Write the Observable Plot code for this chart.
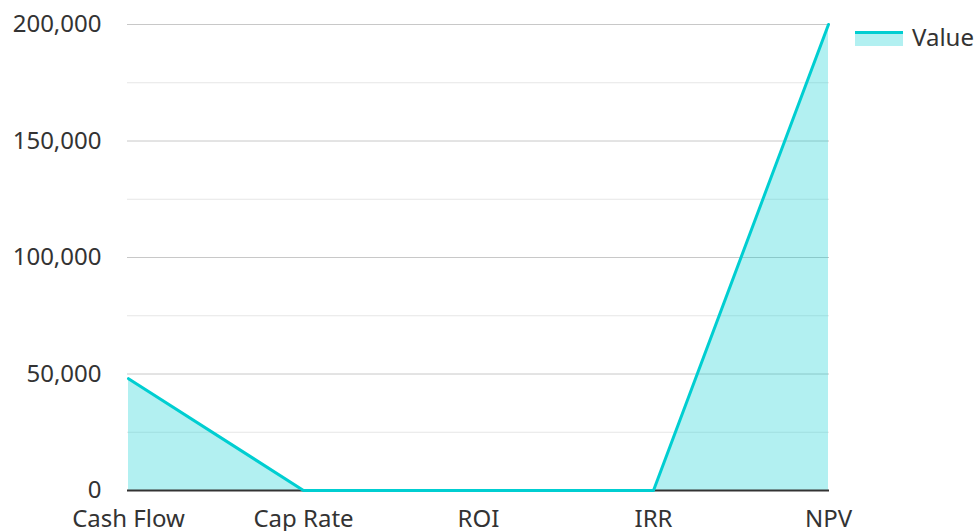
<!DOCTYPE html>
<html><head><meta charset="utf-8">
<script src="https://cdn.jsdelivr.net/npm/d3@7"></script>
<script src="https://cdn.jsdelivr.net/npm/@observablehq/plot@0.6"></script>
<style>
body{margin:0;background:#fff;font-family:"Noto Sans",sans-serif}
#wrap{position:relative;width:979px;height:531px;overflow:hidden}
#legend{position:absolute;left:855px;top:20px;display:flex;align-items:center;font-size:24px;color:#333;white-space:nowrap}
#legend .sw{width:48px;height:15px;background:rgba(0,206,209,0.3);border-top:3px solid #00CED1;box-sizing:border-box;margin-right:9px;margin-top:4px}
</style></head><body><div id="wrap"></div>
<script>
const categories = ["Cash Flow","Cap Rate","ROI","IRR","NPV"];
const values = [48000,0,0,0,200000];
const majorTicks = [0,50000,100000,150000,200000];
const minorTicks = [25000,75000,125000,175000];
const seriesName = "Value";
const data = categories.map((c,i)=>({category:c, value:values[i]}));
const color = "#00CED1";
const chart = Plot.plot({
  width:979, height:531, marginLeft:127, marginRight:150, marginTop:24, marginBottom:41,
  style:{fontFamily:'"Noto Sans", sans-serif', fontSize:"24px", color:"#333", background:"#fff", overflow:"visible"},
  x:{type:"point", domain:categories, padding:0, label:null},
  y:{domain:[0,200000], label:null},
  marks:[
    Plot.ruleY(minorTicks,{stroke:"#e6e6e6", strokeWidth:1}),
    Plot.ruleY(majorTicks.filter(d=>d>0),{stroke:"#c8c8c8", strokeWidth:1}),
    Plot.areaY(data,{x:"category", y:"value", fill:color, fillOpacity:0.3, curve:"linear"}),
    Plot.ruleY([0],{stroke:"#333", strokeWidth:2}),
    Plot.lineY(data,{x:"category", y:"value", stroke:color, strokeWidth:3}),
    Plot.axisY({ticks:majorTicks, tickSize:0, tickPadding:26, tickFormat:d3.format(","), fontSize:24, fill:"#333"}),
    Plot.axisX({tickSize:0, tickPadding:19, fontSize:24, fill:"#333"})
  ]
});
const wrap = document.getElementById("wrap");
wrap.appendChild(chart);
const lg = document.createElement("div");
lg.id = "legend";
lg.innerHTML = `<span class="sw"></span><span>${seriesName}</span>`;
wrap.appendChild(lg);
</script></body></html>
